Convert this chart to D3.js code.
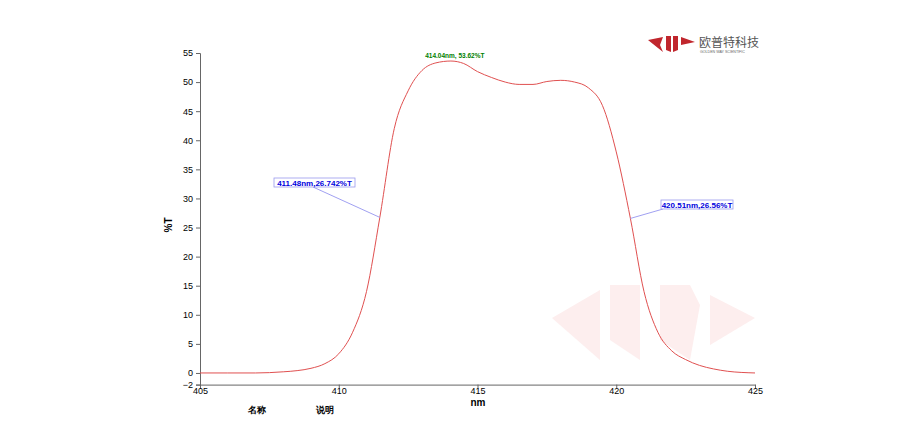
<!DOCTYPE html>
<html><head><meta charset="utf-8">
<script src="https://cdn.jsdelivr.net/npm/d3@7"></script>
<style>body{margin:0;background:#fff}svg{font-family:Arial,"Liberation Sans",sans-serif}</style>
</head><body><svg id="c" width="924" height="440"></svg>
<script>
const wavelength=[405,406,407,408,408.5,409,409.5,410,410.5,411,411.48,412,412.5,413,413.5,414.04,414.5,415,415.5,416,416.5,417,417.5,418,418.5,419,419.5,420,420.51,421,421.5,422,422.5,423,423.5,424,425];
const transmit=[0,0,0,0.2,0.4,0.8,1.6,3.3,7,14,26.74,42,48.5,52,53.3,53.62,53.2,51.8,50.8,50,49.6,49.6,50.1,50.3,50,49,46,38,26.56,14,7,3.8,2.3,1.3,0.7,0.3,0];
const yTicks=[-2,0,5,10,15,20,25,30,35,40,45,50,55];
const xTicks=[405,410,415,420,425];
const svg=d3.select("#c");
const x=d3.scaleLinear().domain([405,425]).range([200,755]);
const y=d3.scaleLinear().domain([-2,55]).range([384.6,53]);
const wm=svg.append("g").attr("fill","#fdeeee");
wm.append("path").attr("d","M552,318 L600,290 L600,360 Z M610,285 L640,285 L640,360 L610,340 Z M660,285 L690,285 L700,305 L690,360 L660,340 Z M710,295 L755,318 L710,345 Z");
svg.append("g").attr("transform","translate(0,384.6)").call(d3.axisBottom(x).tickValues(xTicks).tickSize(4))
 .call(g=>g.selectAll("text").attr("font-size",9).attr("fill","#000").attr("dy","0.3em"))
 .call(g=>g.selectAll("path,line").attr("stroke","#666"));
svg.append("g").attr("transform","translate(200,0)").call(d3.axisLeft(y).tickValues(yTicks).tickSize(4))
 .call(g=>g.selectAll("text").attr("font-size",9).attr("fill","#000"))
 .call(g=>g.selectAll("path,line").attr("stroke","#666"));
svg.append("text").attr("x",478).attr("y",406).attr("text-anchor","middle").attr("font-size",10).attr("font-weight","bold").text("nm");
svg.append("text").attr("transform","translate(172,225) rotate(-90)").attr("text-anchor","middle").attr("font-size",10).attr("font-weight","bold").text("%T");
svg.append("text").attr("x",257).attr("y",413).attr("text-anchor","middle").attr("font-size",9).attr("font-weight","bold").text("名称");
svg.append("text").attr("x",325).attr("y",413).attr("text-anchor","middle").attr("font-size",9).attr("font-weight","bold").text("说明");
const pts=wavelength.map((w,i)=>[w,transmit[i]]);
svg.append("path").attr("d",d3.line().x(d=>x(d[0])).y(d=>y(d[1])).curve(d3.curveMonotoneX)(pts))
 .attr("fill","none").attr("stroke","#e05050").attr("stroke-width",1);
function lab(t,bx,by,w,px,py,lx,ly){
 svg.append("line").attr("x1",lx).attr("y1",ly).attr("x2",px).attr("y2",py).attr("stroke","#8888ee").attr("stroke-width",0.8);
 svg.append("rect").attr("x",bx).attr("y",by).attr("width",w).attr("height",9).attr("fill","#fff").attr("stroke","#9999ee").attr("stroke-width",0.8);
 svg.append("text").attr("x",bx+w/2).attr("y",by+7.5).attr("text-anchor","middle").attr("font-size",8).attr("font-weight","bold").attr("fill","#0000dd").text(t);
}
lab("411.48nm,26.742%T",274,178,81,x(411.48),y(26.74),313,187);
lab("420.51nm,26.56%T",661,200,72,x(420.51),y(26.56),663,209);
svg.append("text").attr("x",x(414.04)+4).attr("y",58).attr("text-anchor","middle").attr("font-size",6.5).attr("font-weight","bold").attr("fill","#008000").text("414.04nm, 53.62%T");
svg.append("path").attr("d","M648,40 L663,37 L660,45 L663,52 Z M666,36 L671,36 L671,52 L666,50 Z M673,36 L678,36 L678,50 L673,52 Z M681,37 L695,42 L681,45 Z").attr("fill","#c0262d");
svg.append("text").attr("x",699).attr("y",47).attr("font-size",12).attr("fill","#555").attr("font-family","Noto Sans CJK SC").text("欧普特科技");
svg.append("text").attr("x",700).attr("y",53).attr("font-size",3.6).attr("fill","#666").text("GOLDEN WAY SCIENTIFIC");
</script></body></html>
